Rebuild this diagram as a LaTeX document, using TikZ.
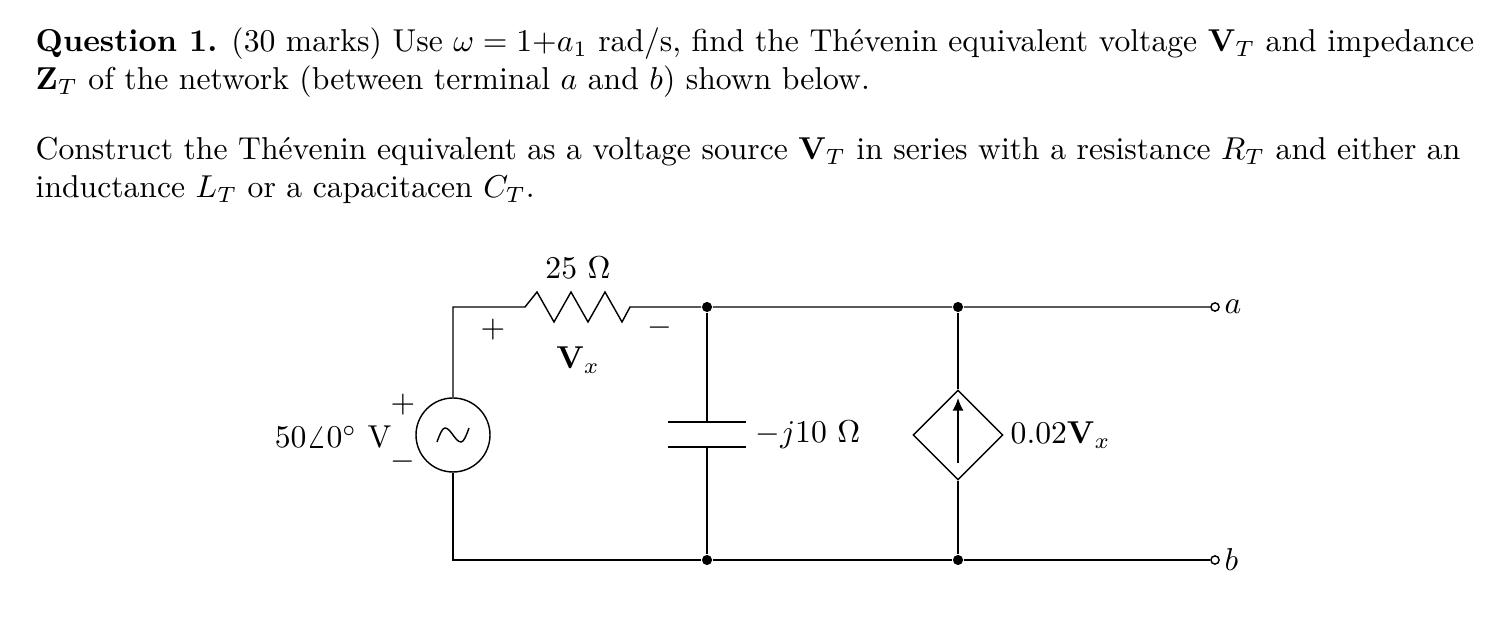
\documentclass[tikz,border=0pt]{standalone}
\usepackage{amsmath}
\usetikzlibrary{shapes.geometric,arrows.meta}
\begin{document}
\begin{tikzpicture}[x=0.316pt,y=-0.316pt,line width=0.45pt,
  lbl/.style={inner sep=0pt},
  dot/.style={circle,fill,inner sep=0pt,minimum size=3.2pt},
  term/.style={circle,draw,fill=white,inner sep=0pt,minimum size=2.6pt}]
\useasboundingbox (0,0) rectangle (1488,628);
\node[lbl,anchor=base west] (l1) at (35,52) {\textbf{Question 1.} (30 marks) Use $\omega=1{+}a_1$ rad/s, find the Th\'evenin equivalent voltage $\mathbf{V}_T$ and impedance};
\node[lbl,anchor=base west] (l2) at (35,90) {$\mathbf{Z}_T$ of the network (between terminal $a$ and $b$) shown below.};
\node[lbl,anchor=base west] (l3) at (35,160) {Construct the Th\'evenin equivalent as a voltage source $\mathbf{V}_T$ in series with a resistance $R_T$ and either an};
\node[lbl,anchor=base west] (l4) at (35,198) {inductance $L_T$ or a capacitacen $C_T$.};
% coordinates
\coordinate (tl) at (453,307); \coordinate (bl) at (453,560);
\coordinate (r1) at (525,307); \coordinate (r2) at (630,307);
\node[dot] (n1) at (707,307) {}; \node[dot] (n2) at (707,560) {};
\node[dot] (n3) at (958,307) {}; \node[dot] (n4) at (958,560) {};
\node[term] (ta) at (1215,307) {}; \node[term] (tb) at (1215,560) {};
\node[circle,draw,minimum size=74*0.316pt,inner sep=0pt] (src) at (453,435) {};
\draw (437,442) sin (445,428) cos (453,435) sin (461,442) cos (469,428);
\node[draw,diamond,minimum width=90*0.316pt,minimum height=90*0.316pt,inner sep=0pt] (dep) at (958,435) {};
\draw[-{Latex[length=4pt,width=3.5pt]}] (958,463) -- (958,398);
% wires
\draw (src.north) -- (tl) -- (r1) -- (537,292) -- (554,322) -- (571,292) -- (588,322) -- (605,292) -- (622,322) -- (r2) -- (n1) -- (n3) -- (ta);
\draw (src.south) -- (bl) -- (n2) -- (n4) -- (tb);
\draw (n1) -- (707,422) (668,422) -- (746,422) (668,447) -- (746,447) (707,447) -- (n2);
\draw (n3) -- (dep.north) (dep.south) -- (n4);
% labels
\node[lbl] at (578,268) {25 $\Omega$};
\node[lbl] at (493,330) {$+$};
\node[lbl] at (660,328) {$-$};
\node[lbl] at (578,360) {$\mathbf{V}_x$};
\node[lbl] at (403,405) {$+$};
\node[lbl] at (403,462) {$-$};
\node[lbl,anchor=east] at (392,437) {$50\angle0^\circ$ V};
\node[lbl,anchor=west] at (755,435) {$-j10\ \Omega$};
\node[lbl,anchor=west] at (1010,435) {$0.02\mathbf{V}_x$};
\node[lbl,anchor=west] at (1224,307) {$a$};
\node[lbl,anchor=west] at (1224,560) {$b$};
\end{tikzpicture}
\end{document}
